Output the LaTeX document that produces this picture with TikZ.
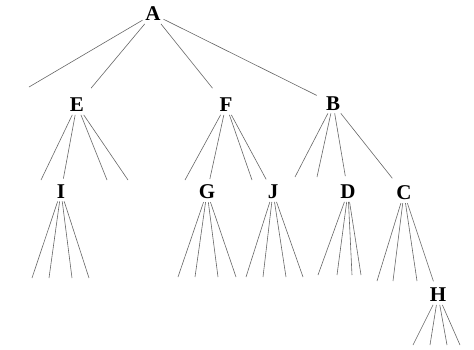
\documentclass[tikz,border=0pt]{standalone}
\usepackage{fontspec}
\setmainfont{Liberation Serif}
\usetikzlibrary{positioning}
\tikzset{
  lab/.style={inner sep=0pt, outer sep=3pt, font=\fontsize{21}{21}\selectfont\bfseries},
  br/.style={draw=black!60, line width=0.6pt},
  brn/.style={br, shorten >=3pt},
}

\begin{document}
\begin{tikzpicture}[x=1pt,y=-1pt]
  \useasboundingbox (0,0) rectangle (474,349);
  % labelled nodes
  \node[lab] (A) at (153,14) {A};
  \node[lab] (E) at (77,105) {E};
  \node[lab] (F) at (226,105) {F};
  \node[lab] (B) at (333,103.5) {B};
  \node[lab] (I) at (61,191.5) {I};
  \node[lab] (G) at (207,192) {G};
  \node[lab] (J) at (273,192) {J};
  \node[lab] (D) at (348,192) {D};
  \node[lab] (C) at (404,193) {C};
  \node[lab] (H) at (438,295) {H};
  % inner branches
  \draw[brn, shorten >=9pt] (A) -- (E);
  \draw[brn, shorten >=9pt] (A) -- (F);
  \draw[brn, shorten >=7pt] (A) -- (B);
  \draw[brn] (E) -- (I);
  \draw[brn] (F) -- (G);
  \draw[brn] (F) -- (J);
  \draw[brn, shorten >=6pt] (B) -- (D);
  \draw[brn, shorten >=6pt] (B) -- (C);
  \draw[brn, shorten >=4pt] (C) -- (H);
  % open branches
  \foreach \x/\n in {29/a1} {\coordinate (\n) at (\x,87); \draw[br] (A) -- (\n);}
  \foreach \x/\n in {41/e1,107/e3,128/e4} {\coordinate (\n) at (\x,180); \draw[br] (E) -- (\n);}
  \foreach \x/\n in {185/f1,252/f3} {\coordinate (\n) at (\x,180); \draw[br] (F) -- (\n);}
  \foreach \x/\n in {295/b1,317/b2} {\coordinate (\n) at (\x,177); \draw[br] (B) -- (\n);}
  \foreach \x/\n in {32/i1,49/i2,72/i3,89/i4} {\coordinate (\n) at (\x,278); \draw[br] (I) -- (\n);}
  \foreach \x/\n in {178/g1,195/g2,218/g3,236/g4} {\coordinate (\n) at (\x,277); \draw[br] (G) -- (\n);}
  \foreach \x/\n in {246/j1,263/j2,286/j3,303/j4} {\coordinate (\n) at (\x,277); \draw[br] (J) -- (\n);}
  \foreach \x/\n in {318/d1,337/d2,352/d3,361/d4} {\coordinate (\n) at (\x,275); \draw[br] (D) -- (\n);}
  \foreach \x/\n in {377/c1,393/c2,417/c3} {\coordinate (\n) at (\x,281); \draw[br] (C) -- (\n);}
  \foreach \x/\n in {413/h1,430/h2,447/h3,460/h4} {\coordinate (\n) at (\x,345); \draw[br] (H) -- (\n);}
\end{tikzpicture}
\end{document}
